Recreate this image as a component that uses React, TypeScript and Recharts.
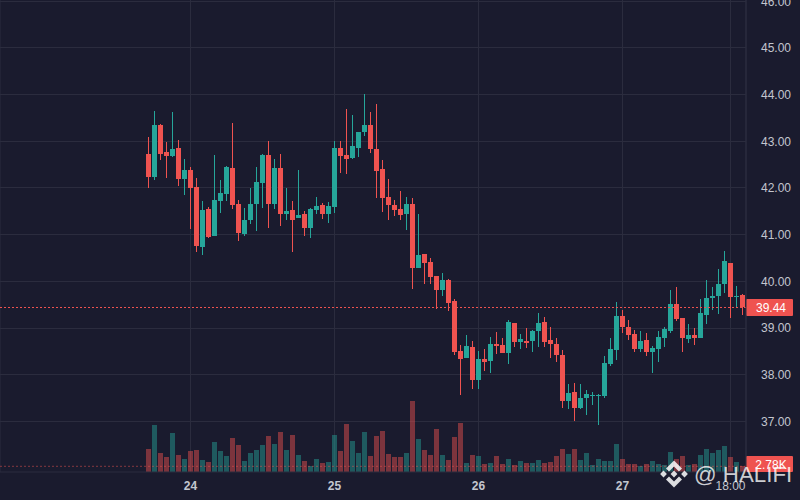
import { Bar, CartesianGrid, ComposedChart, ReferenceLine, XAxis, YAxis } from "recharts";

const OPEN = [
  42.73, 42.23, 43.35, 42.77, 42.68, 42.85, 42.19, 42.38, 42.02, 40.73,
  41.55, 40.97, 41.72, 41.87, 42.43, 41.65, 41.01, 41.31, 41.65, 42.10,
  42.70, 41.65, 42.43, 41.44, 41.53, 41.36, 41.44, 41.14, 41.53, 41.63,
  41.44, 41.59, 42.85, 42.70, 42.64, 42.85, 43.20, 43.35, 42.83, 42.40,
  41.80, 41.63, 41.55, 41.44, 41.65, 40.28, 40.58, 40.41, 40.11, 39.81,
  40.03, 39.58, 38.51, 38.36, 38.59, 37.88, 38.33, 38.29, 38.66, 38.63,
  38.46, 39.11, 38.70, 38.72, 38.72, 38.93, 39.13, 38.74, 38.66, 38.42,
  37.44, 37.63, 37.28, 37.50, 37.54, 37.54, 37.54, 38.23, 38.53, 39.26,
  39.02, 38.87, 38.55, 38.74, 38.48, 38.55, 38.78, 38.93, 39.51, 39.21,
  38.76, 38.85, 38.78, 39.28, 39.64, 39.68, 39.94, 40.39, 39.66, 39.70,
];
const CLOSE = [
  42.23, 43.35, 42.73, 42.68, 42.83, 42.19, 42.38, 42.00, 40.76, 41.53,
  40.95, 41.74, 41.89, 42.45, 41.63, 41.03, 41.31, 41.65, 42.13, 42.70,
  41.65, 42.43, 41.44, 41.50, 41.31, 41.42, 41.14, 41.55, 41.61, 41.44,
  41.61, 42.85, 42.68, 42.62, 42.90, 43.20, 43.35, 42.83, 42.36, 41.78,
  41.63, 41.53, 41.42, 41.65, 40.28, 40.56, 40.39, 40.09, 39.81, 40.03,
  39.53, 38.48, 38.33, 38.61, 37.88, 38.33, 38.27, 38.66, 38.61, 38.46,
  39.13, 38.70, 38.76, 38.68, 38.93, 39.11, 38.70, 38.66, 38.42, 37.44,
  37.61, 37.28, 37.50, 37.58, 37.56, 37.56, 38.25, 38.55, 39.26, 39.02,
  38.85, 38.55, 38.72, 38.48, 38.57, 38.81, 38.98, 39.51, 39.19, 38.78,
  38.85, 38.78, 39.32, 39.64, 39.68, 39.94, 40.43, 39.66, 39.68, 39.44,
];
const HIGH = [
  43.09, 43.65, 43.37, 42.98, 43.63, 43.03, 42.62, 42.45, 42.21, 41.72,
  41.59, 42.70, 42.17, 42.47, 43.39, 41.74, 41.57, 42.00, 42.45, 42.73,
  43.00, 42.62, 42.73, 42.00, 41.72, 42.38, 41.50, 41.57, 41.80, 41.68,
  41.70, 43.00, 43.00, 43.69, 43.56, 43.20, 44.01, 43.63, 43.80, 42.60,
  42.19, 41.74, 41.93, 41.80, 41.78, 41.44, 40.58, 40.50, 40.11, 40.18,
  40.05, 39.62, 38.63, 38.85, 38.72, 38.51, 38.55, 38.81, 38.91, 38.78,
  39.17, 39.11, 38.87, 39.00, 38.96, 39.32, 39.23, 39.02, 38.78, 38.53,
  37.80, 37.82, 37.80, 37.67, 37.63, 37.58, 38.40, 38.78, 39.56, 39.38,
  39.17, 38.96, 38.93, 38.89, 38.61, 38.93, 39.02, 39.81, 39.88, 39.21,
  39.08, 39.00, 39.62, 40.03, 39.88, 40.26, 40.65, 40.39, 39.90, 39.73,
];
const LOW = [
  42.00, 42.17, 42.60, 42.21, 42.66, 42.04, 41.85, 41.12, 40.63, 40.56,
  40.93, 40.97, 41.46, 41.72, 41.55, 40.86, 40.97, 41.23, 41.08, 41.57,
  41.14, 41.55, 41.18, 41.31, 40.63, 41.36, 40.97, 40.93, 41.44, 41.33,
  41.25, 41.46, 42.32, 42.30, 42.62, 42.66, 43.11, 42.75, 41.78, 41.48,
  41.31, 41.40, 41.31, 41.10, 39.83, 40.28, 39.94, 39.94, 39.41, 39.68,
  39.36, 38.42, 37.56, 38.36, 37.69, 37.69, 38.08, 38.03, 38.44, 38.46,
  38.23, 38.59, 38.55, 38.57, 38.48, 38.59, 38.59, 38.36, 38.27, 37.28,
  37.26, 37.01, 37.26, 37.13, 37.35, 36.92, 37.50, 38.18, 38.31, 38.89,
  38.74, 38.48, 38.48, 38.40, 38.03, 38.27, 38.59, 38.89, 39.15, 38.48,
  38.68, 38.63, 38.78, 39.08, 39.38, 39.30, 39.75, 39.21, 39.43, 39.28,
];
// thousands
const VOLUME = [
  11.4, 23.1, 9.4, 7.5, 19.2, 8.5, 6.5, 10.4, 10.9, 6.0,
  5.0, 14.8, 10.4, 8.0, 16.8, 13.3, 5.5, 9.4, 10.9, 13.3,
  17.7, 13.8, 19.7, 10.9, 18.2, 8.5, 5.5, 3.1, 6.5, 4.6,
  5.0, 18.2, 10.4, 23.6, 15.3, 9.4, 19.7, 8.0, 17.7, 20.2,
  8.9, 7.5, 7.5, 9.4, 34.8, 16.3, 10.9, 8.5, 21.2, 8.5,
  6.0, 17.2, 24.1, 4.6, 8.5, 8.0, 4.1, 4.6, 8.0, 4.1,
  6.5, 3.6, 5.5, 4.6, 4.6, 6.0, 4.6, 5.0, 8.0, 11.4,
  8.9, 11.4, 6.0, 9.4, 3.6, 6.5, 5.5, 5.5, 13.8, 6.5,
  4.1, 4.1, 3.1, 4.1, 5.5, 4.1, 3.6, 9.9, 6.5, 8.0,
  3.6, 4.1, 8.5, 11.4, 9.4, 10.9, 12.9, 7.5, 5.0, 2.78,
];

const PRICE_TICKS = [37, 38, 39, 40, 41, 42, 43, 44, 45, 46];
const TIME_TICKS = [0, 24, 48, 72, 90];
const TIME_LABELS = ["24", "25", "26", "27", "18:00"];
const LAST_PRICE = 39.44;
const LAST_VOLUME = 2.78;

const data = OPEN.map((open, i) => ({
  hour: i - 7,
  open,
  close: CLOSE[i],
  range: [LOW[i], HIGH[i]],
  volume: VOLUME[i],
}));

const BG = "#1a1b2e";
const GRID = "#2b2c3e";
const UP = "#26a69a";
const DOWN = "#ef5350";
const TEXT = "#c3c6ce";

const TIME_DOMAIN = [-31.75, 92.583];
const PRICE_DOMAIN = [35.916, 46.027];
const PLOT_HEIGHT = 472;

// grid rows land on whole pixels, as on the original canvas
function gridRows() {
  const [lo, hi] = PRICE_DOMAIN;
  return PRICE_TICKS.map((t) => Math.floor((PLOT_HEIGHT * (hi - t)) / (hi - lo)) + 0.5);
}

// candles are snapped to whole pixels too
function Candle(props: any) {
  const { x, y, width, height, payload } = props;
  const [low, high] = payload.range;
  const color = payload.close >= payload.open ? UP : DOWN;
  const perPrice = height / (high - low);
  const left = Math.floor(x);
  const wickTop = Math.round(y);
  const wickBottom = Math.round(y + height);
  const top = Math.round(y + (high - Math.max(payload.open, payload.close)) * perPrice);
  const bottom = Math.round(y + (high - Math.min(payload.open, payload.close)) * perPrice);
  return (
    <g>
      <rect x={left + 2} y={wickTop} width={1} height={wickBottom - wickTop} fill={color} />
      <rect x={left} y={top} width={width} height={Math.max(bottom - top, 1)} fill={color} />
    </g>
  );
}

function VolumeBar(props: any) {
  const { x, y, width, height, payload } = props;
  const top = Math.round(y);
  return (
    <rect
      x={Math.floor(x)}
      y={top}
      width={width}
      height={Math.round(y + height) - top}
      fill={payload.close >= payload.open ? UP : DOWN}
      fillOpacity={0.46}
    />
  );
}

function ValueTag({ viewBox, text }: any) {
  const top = Math.min(viewBox.y - 8.5, 456);
  return (
    <g>
      <rect x={746} y={top} width={47} height={Math.min(PLOT_HEIGHT - top, 17)} rx={1} fill={DOWN} />
      <text x={771} y={top + 13} textAnchor="middle" fontSize={12} fill="#ffffff">
        {text}
      </text>
    </g>
  );
}

function TimeTick({ x, y, payload }: any) {
  const idx = TIME_TICKS.indexOf(payload.value);
  return (
    <text
      x={x}
      y={y + 10}
      textAnchor="middle"
      fontSize={12}
      fontWeight={idx < 4 ? 700 : 400}
      fill={TEXT}
    >
      {TIME_LABELS[idx]}
    </text>
  );
}

function Watermark() {
  return (
    <svg
      width={150}
      height={50}
      style={{ position: "absolute", left: 650, top: 450, pointerEvents: "none" }}
    >
      <g fill="#ffffff" fillOpacity={0.85} transform="translate(10 10)">
        <polygon points="14,0.5 22,8.5 19,11.5 14,6.5 9,11.5 6,8.5" />
        <polygon points="14,27.5 22,19.5 19,16.5 14,21.5 9,16.5 6,19.5" />
        <polygon points="14,10.6 17.4,14 14,17.4 10.6,14" />
        <polygon points="3.5,10.6 6.9,14 3.5,17.4 0.1,14" />
        <polygon points="24.5,10.6 27.9,14 24.5,17.4 21.1,14" />
      </g>
      <text x={44} y={32.3} fontSize={22.3} fill="#ffffff" fillOpacity={0.78}>
        @ HALIFI
      </text>
    </svg>
  );
}

export default function App() {
  return (
    <div
      style={{
        position: "absolute",
        left: 0,
        top: 0,
        width: 800,
        height: 500,
        background: BG,
        fontFamily: "'Liberation Sans', Arial, sans-serif",
        overflow: "hidden",
      }}
    >
      <ComposedChart
        width={800}
        height={500}
        data={data}
        margin={{ top: 0, right: 0, bottom: 0, left: 0 }}
      >
        <CartesianGrid stroke={GRID} strokeWidth={1} horizontalCoordinatesGenerator={gridRows} />
        <XAxis
          dataKey="hour"
          type="number"
          domain={TIME_DOMAIN}
          ticks={TIME_TICKS}
          interval={0}
          height={28}
          allowDataOverflow
          stroke={GRID}
          tickLine={false}
          tick={<TimeTick />}
        />
        <XAxis xAxisId="volTime" dataKey="hour" type="number" domain={TIME_DOMAIN} allowDataOverflow hide height={0} />
        <YAxis
          orientation="right"
          domain={PRICE_DOMAIN}
          ticks={PRICE_TICKS}
          interval={0}
          width={54}
          allowDataOverflow
          stroke={GRID}
          tickLine={false}
          tickMargin={9}
          tickFormatter={(v: number) => v.toFixed(2)}
          tick={{ fill: TEXT, fontSize: 12 }}
        />
        <YAxis yAxisId="vol" orientation="right" domain={[0, 230.3]} allowDataOverflow hide width={0} />
        <Bar
          dataKey="volume"
          xAxisId="volTime"
          yAxisId="vol"
          barSize={5}
          shape={<VolumeBar />}
          isAnimationActive={false}
        />
        <Bar dataKey="range" barSize={5} shape={<Candle />} isAnimationActive={false} />
        <ReferenceLine
          y={LAST_PRICE}
          stroke={DOWN}
          strokeDasharray="2 2"
          label={<ValueTag text={LAST_PRICE.toFixed(2)} />}
        />
        <ReferenceLine
          y={LAST_VOLUME}
          xAxisId="volTime"
          yAxisId="vol"
          stroke={DOWN}
          strokeOpacity={0.5}
          strokeDasharray="2 2"
          label={<ValueTag text="2.78K" />}
        />
      </ComposedChart>
      <Watermark />
    </div>
  );
}
